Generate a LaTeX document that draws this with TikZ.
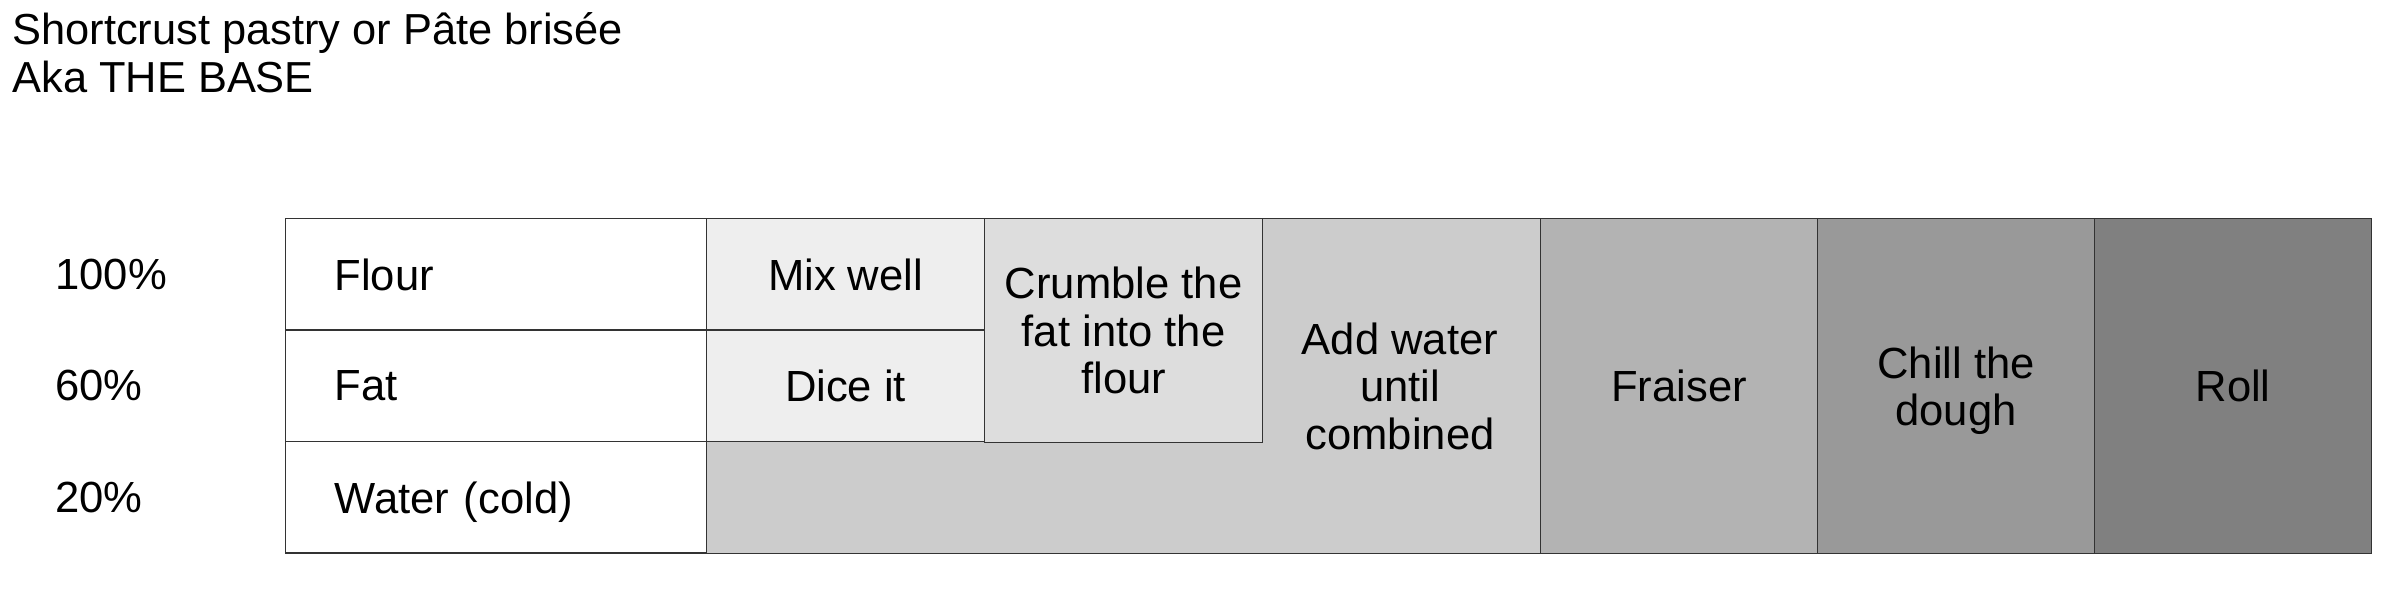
\documentclass[tikz,border=0pt]{standalone}
\usepackage{fontspec}
\setmainfont{Liberation Sans}
\definecolor{cA}{HTML}{EEEEEE}
\definecolor{cB}{HTML}{DDDDDD}
\definecolor{cC}{HTML}{CCCCCC}
\definecolor{cD}{HTML}{B3B3B3}
\definecolor{cE}{HTML}{999999}
\definecolor{cF}{HTML}{808080}
\definecolor{linec}{HTML}{333333}
\begin{document}
\begin{tikzpicture}[x=0.5pt,y=-0.5pt,
  every node/.style={font=\fontsize{21.8}{23.8}\selectfont, text=black},
  cell/.style={draw=linec, line width=0.6pt, inner sep=0pt, anchor=north west, align=center, text depth=0pt},
  ingr/.style={cell, fill=white, minimum width=210.5pt, minimum height=55.75pt,
     inner xsep=24.5pt, text width=161.5pt, align=left},
  pct/.style={anchor=west, inner sep=0pt},
  plain/.style={inner sep=0pt, align=center, text depth=0pt}]
\useasboundingbox (0,0) rectangle (2400,592);
\node[anchor=north west, inner sep=0pt, align=left, font=\fontsize{21.7}{24}\selectfont] (title) at (12,12)
  {Shortcrust pastry or Pâte brisée\\Aka THE BASE};
\node[pct] (p100) at (55,274) {100\%};
\node[pct] (p60) at (55,385.5) {60\%};
\node[pct] (p20) at (55,497) {20\%};
\node[ingr] (flour) at (285,218) {Flour};
\node[ingr] (fat) at (285,329.5) {Fat};
\node[ingr] (water) at (285,441) {Water (cold)};
\node[cell, fill=cC, minimum width=417pt, minimum height=167.5pt] (addw) at (706,218) {};
\node[plain] (addwt) at (1400,386) {Add water\\until\\combined};
\node[cell, fill=cA, minimum width=139pt, minimum height=55.75pt] (mix) at (706,218) {Mix well};
\node[cell, fill=cA, minimum width=139pt, minimum height=55.75pt] (dice) at (706,329.5) {Dice it};
\node[cell, fill=cB, minimum width=139pt, minimum height=112pt] (crumble) at (984,218) {Crumble the\\fat into the\\flour};
\node[cell, fill=cD, minimum width=138.5pt, minimum height=167.5pt] (fraiser) at (1540,218) {Fraiser};
\node[cell, fill=cE, minimum width=138.5pt, minimum height=167.5pt] (chill) at (1817,218) {Chill the\\dough};
\node[cell, fill=cF, minimum width=138.5pt, minimum height=167.5pt] (roll) at (2094,218) {Roll};
\end{tikzpicture}
\end{document}
